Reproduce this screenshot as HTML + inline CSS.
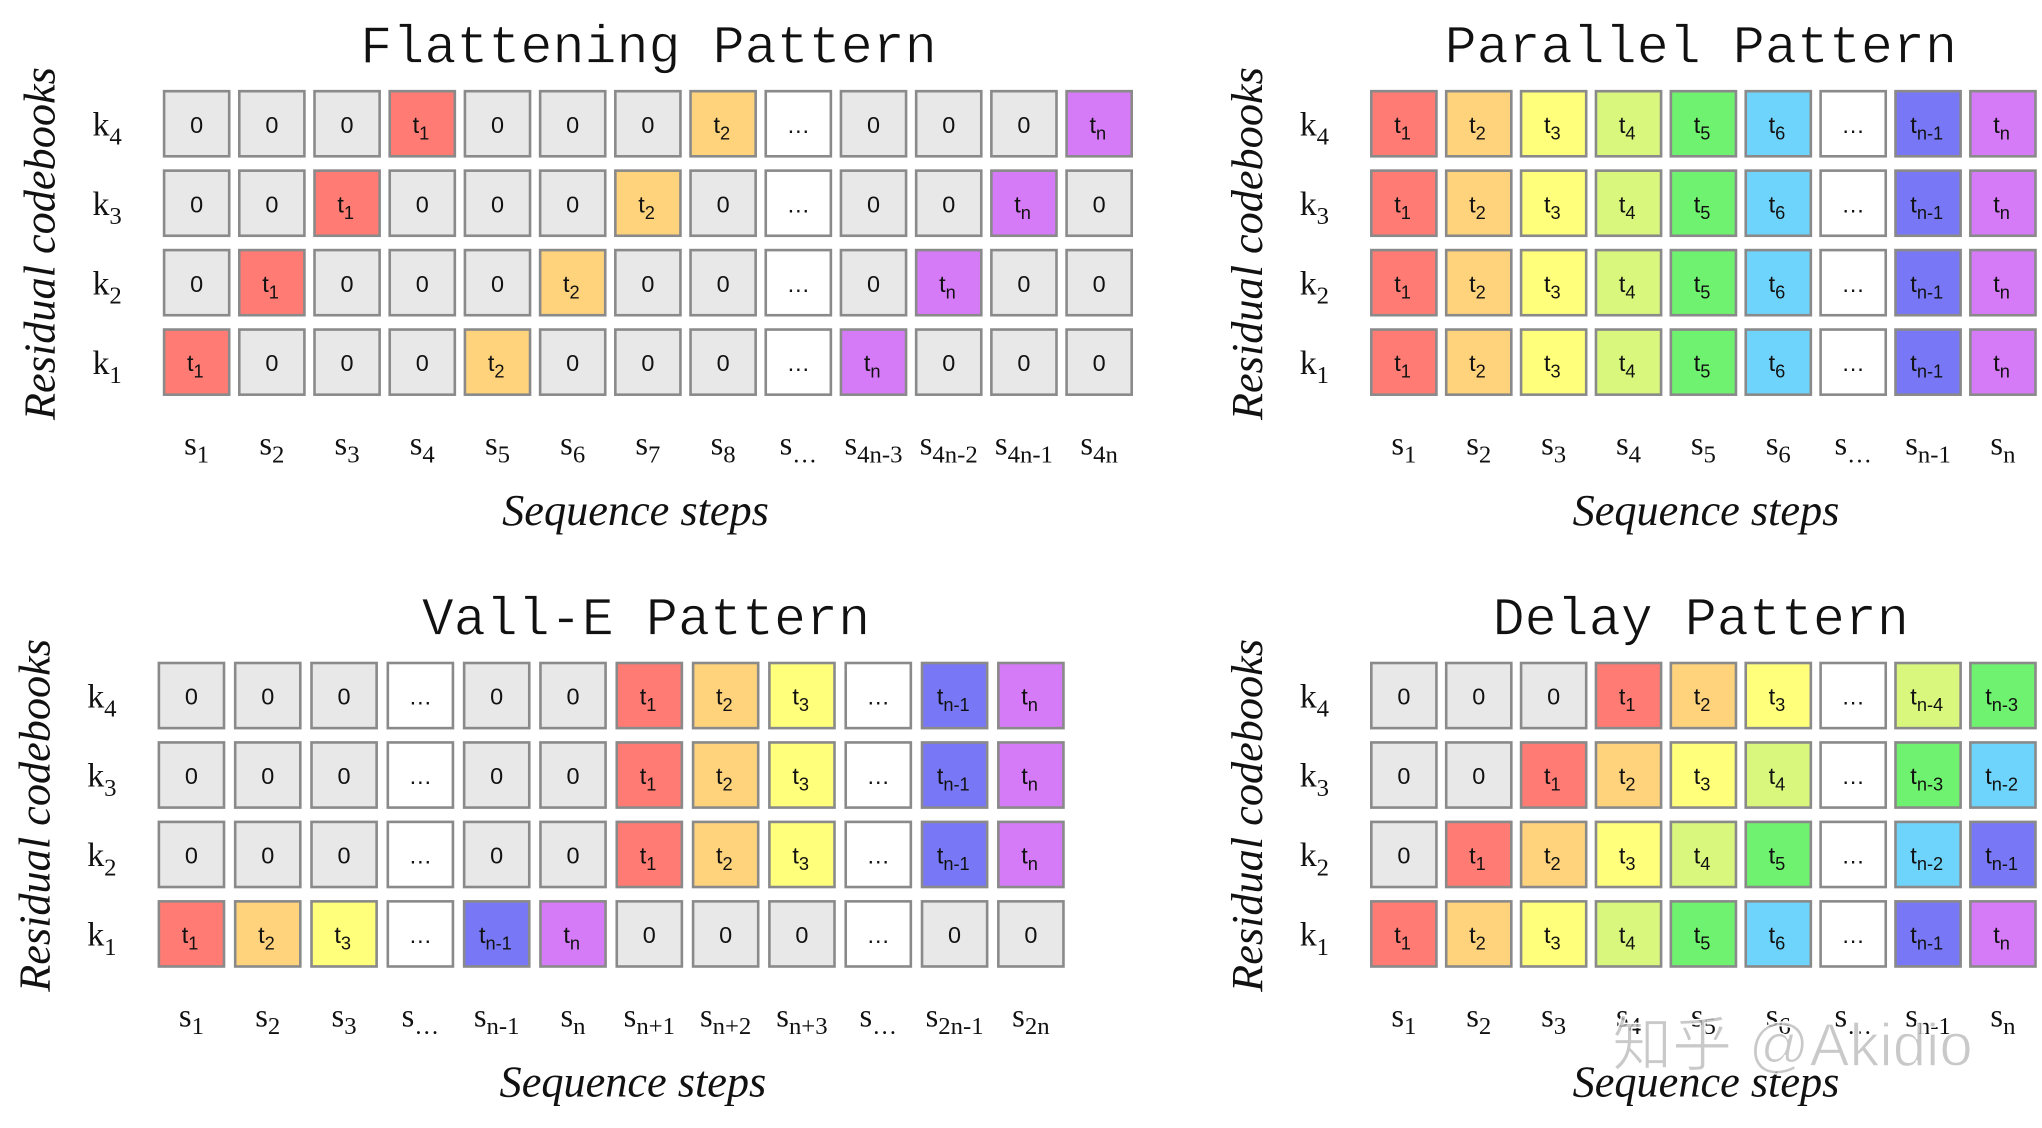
<!DOCTYPE html>
<html><head><meta charset="utf-8"><style>
html,body{margin:0;padding:0;background:#fff;}
svg{display:block;}
</style></head><body>
<svg id="fig" width="2042" height="1128" viewBox="0 0 1568 866" preserveAspectRatio="none" xmlns="http://www.w3.org/2000/svg"></svg>
<script>
const flatCols = ["1","2","3","4","5","6","7","8","…","4n-3","4n-2","4n-1","4n"];
const flatK4 = ["0","0","0","t1","0","0","0","t2","…","0","0","0","tn"];
const flatK3 = ["0","0","t1","0","0","0","t2","0","…","0","0","tn","0"];
const flatK2 = ["0","t1","0","0","0","t2","0","0","…","0","tn","0","0"];
const flatK1 = ["t1","0","0","0","t2","0","0","0","…","tn","0","0","0"];
const parCols = ["1","2","3","4","5","6","…","n-1","n"];
const parRow = ["t1","t2","t3","t4","t5","t6","…","tn-1","tn"];
const valCols = ["1","2","3","…","n-1","n","n+1","n+2","n+3","…","2n-1","2n"];
const valTop = ["0","0","0","…","0","0","t1","t2","t3","…","tn-1","tn"];
const valK1 = ["t1","t2","t3","…","tn-1","tn","0","0","0","…","0","0"];
const delCols = ["1","2","3","4","5","6","…","n-1","n"];
const delK4 = ["0","0","0","t1","t2","t3","…","tn-4","tn-3"];
const delK3 = ["0","0","t1","t2","t3","t4","…","tn-3","tn-2"];
const delK2 = ["0","t1","t2","t3","t4","t5","…","tn-2","tn-1"];
const delK1 = ["t1","t2","t3","t4","t5","t6","…","tn-1","tn"];

const colorMap = {"t1":"#ff7b74","t2":"#ffd37c","t3":"#ffff7c","t4":"#d9f77c","t5":"#6ff26f","t6":"#6fd4fb",
 "tn-4":"#d9f77c","tn-3":"#6ff26f","tn-2":"#6fd4fb","tn-1":"#7878f7","tn":"#d67bf8","0":"#e8e8e8","…":"#ffffff"};

const NS="http://www.w3.org/2000/svg";
const svg=document.getElementById('fig');
function mk(tag,attrs,parent){const e=document.createElementNS(NS,tag);for(const k in attrs)e.setAttribute(k,attrs[k]);(parent||svg).appendChild(e);return e;}

function panel(name,title,titleX,x0,step,yTop,cols,rows,xtOff){
  const g=mk('g',{});
  
  
  const t=mk('text',{x:titleX,y:yTop-22,'text-anchor':'middle','font-family':'Liberation Mono, monospace','font-size':41,fill:'#111',stroke:'#fff','stroke-width':0.6},g);
  t.textContent=title;
  
  
  const kNames=["4","3","2","1"];
  rows.forEach((row,r)=>{
    const y=yTop+r*61;
    const kl=mk('text',{x:x0-55,y:y+34,'font-family':'Liberation Serif, serif','font-size':26,fill:'#111'},g);
    
    
    kl.textContent='k';
    const ks=mk('tspan',{'font-size':19,dy:7},kl); ks.textContent=kNames[r];
    row.forEach((v,c)=>{
      const x=x0+c*step;
      const rect=mk('rect',{x:x,y:y,width:50,height:50,fill:colorMap[v]||'#e8e8e8',stroke:'#8a8a8a','stroke-width':2},g);
      
      
      const tx=mk('text',{x:x+25,y:y+32,'text-anchor':'middle','font-family':'Liberation Sans, sans-serif','font-size':18,fill:'#111'},g);
      if(v[0]==='t'){tx.textContent='t';const s=mk('tspan',{'font-size':14,dy:5},tx);s.textContent=v.slice(1);tx.setAttribute('x',x+25-1);}
      else tx.textContent=v;
    });
  });
  const ly=yTop+4*61+35;
  cols.forEach((c,i)=>{
    const x=x0+i*step+25;
    const sl=mk('text',{x:x,y:ly,'text-anchor':'middle','font-family':'Liberation Serif, serif','font-size':25,fill:'#111'},g);
    
    
    sl.textContent='s';
    const s=mk('tspan',{'font-size':19,dy:6},sl);s.textContent=c;
  });
  const xt=mk('text',{x:titleX-10+xtOff,y:ly+54,'text-anchor':'middle','font-family':'Liberation Serif, serif','font-style':'italic','font-size':34,fill:'#111'},g);
  xt.textContent='Sequence steps';
  
  
  const yx=x0-84, yy=yTop+117;
  const yt=mk('text',{x:yx,y:yy,'text-anchor':'middle','font-family':'Liberation Serif, serif','font-style':'italic','font-size':34,fill:'#111',transform:`rotate(-90 ${yx} ${yy})`},g);
  yt.textContent='Residual codebooks';
  
  
}
panel('flattening','Flattening Pattern',498,126,57.75,70,flatCols,[flatK4,flatK3,flatK2,flatK1],0);
panel('parallel','Parallel Pattern',1306,1053,57.5,70,parCols,[parRow,parRow,parRow,parRow],14);
panel('vall-e','Vall-E Pattern',496,122,58.6,509,valCols,[valTop,valTop,valTop,valK1],0);
panel('delay','Delay Pattern',1306,1053,57.5,509,delCols,[delK4,delK3,delK2,delK1],14);

const wm=mk('text',{x:1238,y:818,'font-family':'Liberation Sans, Noto Sans CJK SC, sans-serif','font-size':46,fill:'#bbbbbb','fill-opacity':0.8,stroke:'#ffffff','stroke-width':1});
wm.textContent='知乎 @Akidio';


</script>
</body></html>
